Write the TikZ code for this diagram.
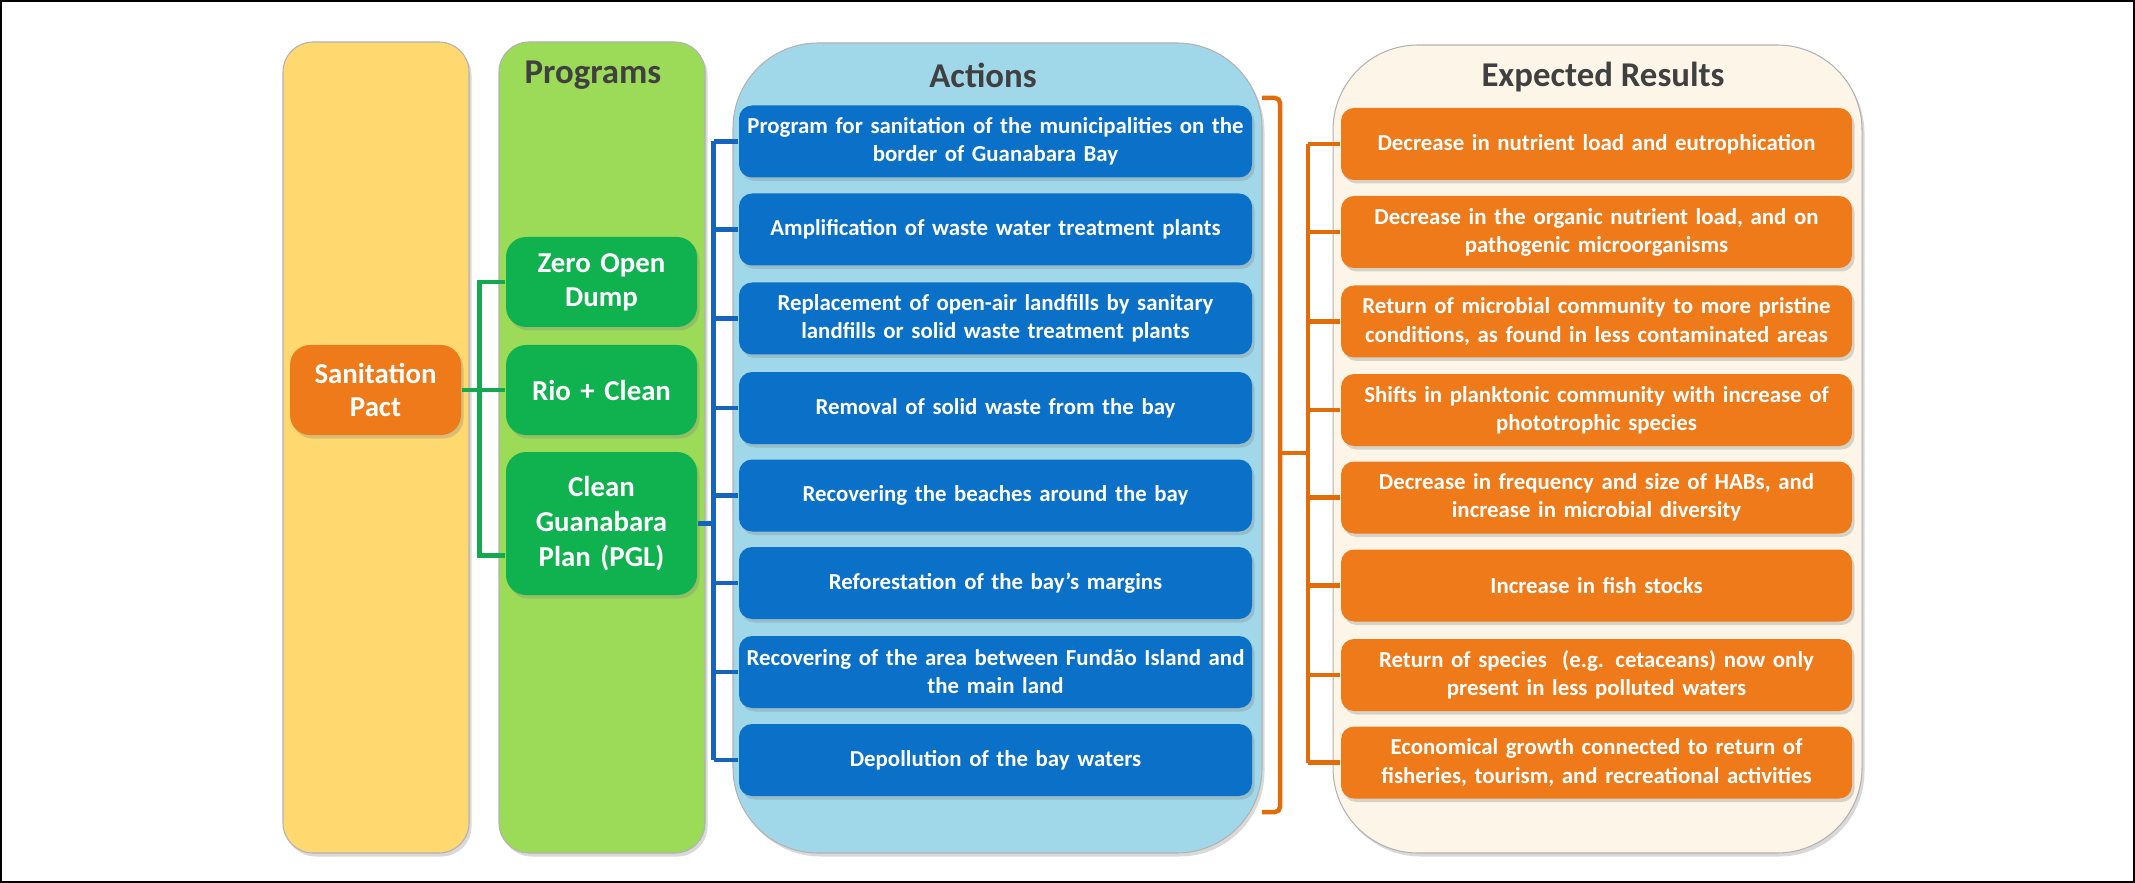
\documentclass[tikz,border=0pt]{standalone}
\usepackage{fontspec}
\setmainfont{Carlito}
\usetikzlibrary{shadows}

\definecolor{colyellow}{HTML}{FFD870}
\definecolor{colgreen}{HTML}{9BDB57}
\definecolor{colblue}{HTML}{A0D8EA}
\definecolor{colcream}{HTML}{FDF6E8}
\definecolor{boxgreen}{HTML}{10B250}
\definecolor{boxblue}{HTML}{0B70C7}
\definecolor{boxorange}{HTML}{EE7A1A}
\definecolor{linegreen}{HTML}{14A84F}
\definecolor{lineblue}{HTML}{1565C0}
\definecolor{lineorange}{HTML}{E36C0A}

\begin{document}
\begin{tikzpicture}[x=0.1mm, y=-0.1mm,
        shade/.style={drop shadow={shadow xshift=0.25mm, shadow yshift=-0.35mm, opacity=0.3}},
        col/.style={draw=black!30, line width=0.3pt, inner sep=0pt, rounded corners=3mm, shade},
        bigcol/.style={col, rounded corners=8.5mm},
        title/.style={font=\fontsize{9.9pt}{11pt}\selectfont\bfseries, text=black!75},
        prog/.style={fill=boxgreen, text=white, rounded corners=2mm, inner sep=0pt,
            align=center, text width=19.1mm, minimum height=9mm, shade,
            font=\fontsize{8.2pt}{9.6pt}\selectfont\bfseries},
        act/.style={fill=boxblue, text=white, rounded corners=1.3mm, inner sep=0pt,
            align=center, text width=51.3mm, minimum height=7.2mm, shade,
            font=\fontsize{6.5pt}{8pt}\selectfont\bfseries},
        res/.style={act, fill=boxorange, text width=51.1mm},
        gline/.style={draw=linegreen, line width=0.45mm},
        bline/.style={draw=lineblue, line width=0.45mm},
        oline/.style={draw=lineorange, line width=0.45mm}]
\useasboundingbox (0,0) rectangle (2135,883);
\draw[line width=0.25mm] (1.2,1.2) rectangle (2133.8,881.8);

% background columns
\node[col, fill=colyellow, minimum width=18.6mm, minimum height=81.1mm] (cpact) at (376,447.5) {};
\node[col, fill=colgreen, minimum width=20.6mm, minimum height=81.1mm] (cprog) at (602,447.5) {};
\node[bigcol, fill=colblue, minimum width=52.9mm, minimum height=81mm] (cact) at (997.5,448) {};
\node[bigcol, fill=colcream, minimum width=52.9mm, minimum height=80.8mm] (cres) at (1597.5,449) {};

\node[title] (tprog) at (593,75) {Programs};
\node[title] (tact) at (983,75) {Actions};
\node[title] (tres) at (1603,77) {Expected Results};

\node[prog, fill=boxorange, text width=17.1mm] (pact) at (375.5,390) {Sanitation\\Pact};
\node[prog] (zero) at (601.5,282) {Zero Open\\Dump};
\node[prog] (rio) at (601.5,390) {Rio + Clean};
\node[prog, minimum height=14.3mm, font=\fontsize{8.2pt}{10pt}\selectfont\bfseries] (pgl) at (601.5,523.5) {Clean\\Guanabara\\Plan (PGL)};

\node[act] (a1) at (995.5,141.5) {Program for sanitation of the municipalities on the\\border of Guanabara Bay};
\node[act] (a2) at (995.5,229.5) {Amplification of waste water treatment plants};
\node[act] (a3) at (995.5,318.5) {Replacement of open-air landfills by sanitary\\landfills or solid waste treatment plants};
\node[act] (a4) at (995.5,408) {Removal of solid waste from the bay};
\node[act] (a5) at (995.5,495.5) {Recovering the beaches around the bay};
\node[act] (a6) at (995.5,583) {Reforestation of the bay’s margins};
\node[act] (a7) at (995.5,672) {Recovering of the area between Fundão Island and\\the main land};
\node[act] (a8) at (995.5,760) {Depollution of the bay waters};

\node[res] (r1) at (1596.5,144) {Decrease in nutrient load and eutrophication};
\node[res] (r2) at (1596.5,232) {Decrease in the organic nutrient load, and on\\pathogenic microorganisms};
\node[res] (r3) at (1596.5,321.5) {Return of microbial community to more pristine\\conditions, as found in less contaminated areas};
\node[res] (r4) at (1596.5,410) {Shifts in planktonic community with increase of\\phototrophic species};
\node[res] (r5) at (1596.5,497.5) {Decrease in frequency and size of HABs, and\\increase in microbial diversity};
\node[res] (r6) at (1596.5,585.5) {Increase in fish stocks};
\node[res] (r7) at (1596.5,675) {Return of species\ \ (e.g. cetaceans) now only\\present in less polluted waters};
\node[res] (r8) at (1596.5,762.5) {Economical growth connected to return of\\fisheries, tourism, and recreational activities};

% connectors
\draw[gline] (pact.east) -- (rio.west);
\draw[gline] (zero.west) -- ++(-26,0) |- ([yshift=-3.2mm]pgl.west);

\draw[bline] (pgl.east) -- ++(16,0) coordinate (bj);
\draw[bline] (bj |- a1.west) -- (bj |- a8.west);
\foreach \i in {1,...,8}
    \draw[bline] (bj |- a\i.west) -- (a\i.west);

\coordinate (brtop) at (1262,98);
\coordinate (brbot) at (1262,812);
\coordinate (bnub) at (1280,453);
\coordinate (sp) at (1308,453);
\draw[oline, rounded corners=0.5mm] (brtop) -| (bnub) |- (brbot);
\draw[oline] (bnub) -- (sp);
\draw[oline] (sp |- r1.west) -- (sp |- r8.west);
\foreach \i in {1,...,8}
    \draw[oline] (sp |- r\i.west) -- (r\i.west);
\end{tikzpicture}
\end{document}
